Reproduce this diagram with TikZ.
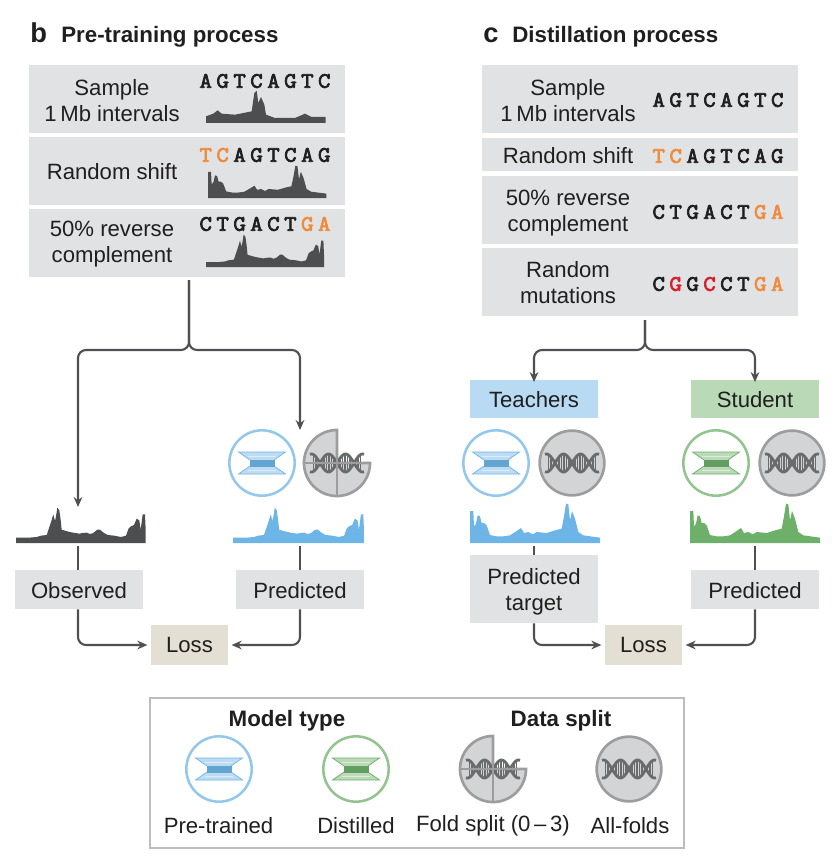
\documentclass[tikz,border=0pt]{standalone}
\usepackage{fontspec}
\setmainfont{Liberation Sans}
\newfontfamily\seqfont{Latin Modern Mono}[FakeBold=3.2,FakeStretch=1.1]
\usetikzlibrary{arrows.meta}
\definecolor{panelgray}{HTML}{E1E2E4}
\definecolor{lossbg}{HTML}{E4DFD3}
\definecolor{linegray}{HTML}{505052}
\definecolor{sigdark}{HTML}{4D4E50}
\definecolor{sigblue}{HTML}{6DB5E6}
\definecolor{siggreen}{HTML}{6CB06A}
\definecolor{orangeb}{HTML}{EE8B3D}
\definecolor{redb}{HTML}{D7202B}
\definecolor{teachbg}{HTML}{B9DAF3}
\definecolor{studbg}{HTML}{BAD9B6}
\definecolor{bluering}{HTML}{93C8EC}
\definecolor{bluelight}{HTML}{BDDBF2}
\definecolor{blueedge}{HTML}{6DB8E8}
\definecolor{greenring}{HTML}{93C48F}
\definecolor{greenlight}{HTML}{BCD9B8}
\definecolor{greenedge}{HTML}{6CB06A}
\definecolor{dnafill}{HTML}{D3D4D6}
\definecolor{dnaring}{HTML}{9D9D9F}
\definecolor{dnaline}{HTML}{6A6B6D}
\definecolor{legendedge}{HTML}{BDBDBD}
\definecolor{textk}{HTML}{1F1F1F}
\newcommand{\txtfont}{\fontsize{16.6pt}{19.6pt}\selectfont}
\newcommand{\hdfont}{\fontsize{16.75pt}{19.6pt}\selectfont\bfseries}
\newcommand{\sq}[2][black!88]{\makebox[12.7pt][c]{\textcolor{#1}{#2}}}
\newcommand{\og}[1]{\sq[orangeb]{#1}}
\newcommand{\rd}[1]{\sq[redb]{#1}}
\tikzset{
  greybox/.style={fill=panelgray,inner sep=0pt},
  lossbox/.style={fill=lossbg,inner sep=0pt,align=center,text=textk,font=\txtfont,minimum width=57.75pt,minimum height=30pt},
  labelbox/.style={greybox,minimum width=96pt,minimum height=29.25pt},
  txtlabel/.style={inner sep=0pt,align=center,text=textk,font=\txtfont},
  headlabel/.style={inner sep=0pt,text=textk,font=\hdfont},
  letterlabel/.style={inner sep=0pt,text=textk,font=\fontsize{20.5pt}{22pt}\selectfont\bfseries},
  seqnode/.style={inner sep=0pt,font=\fontsize{16.5pt}{18pt}\selectfont\seqfont},
  conn/.style={draw=linegray,line width=1.6pt,rounded corners=6pt},
  connarrow/.style={conn,-{Stealth[length=7.5pt,width=6.5pt]}},
}
% signal profiles (baseline at 0, units of 1/3 px)
\def\profA{(0,0)--(0,-16)--(40,-16)--(62,-18)--(75,-22)--(92,-24)--(100,-48)--(106,-66)--(112,-86)--(117,-66)--(120,-80)--(124,-106)--(130,-98)--(134,-70)--(137,-40)--(150,-36)--(158,-34)--(166,-32)--(178,-30)--(190,-28)--(200,-30)--(212,-31)--(222,-27)--(232,-30)--(244,-40)--(252,-40)--(264,-30)--(275,-24)--(295,-22)--(315,-18)--(330,-22)--(338,-44)--(345,-50)--(354,-54)--(362,-73)--(370,-68)--(374,-40)--(380,-86)--(387,-86)--(389,-40)--(389,0)--cycle}
\def\profB{(0,0)--(0,-96)--(10,-96)--(12,-50)--(18,-58)--(23,-83)--(30,-80)--(35,-60)--(42,-60)--(50,-53)--(60,-24)--(80,-20)--(100,-20)--(120,-23)--(140,-36)--(153,-45)--(162,-30)--(175,-33)--(188,-26)--(200,-33)--(230,-30)--(255,-38)--(275,-43)--(282,-80)--(288,-118)--(295,-116)--(300,-68)--(306,-96)--(315,-73)--(325,-33)--(340,-23)--(390,-16)--(390,0)--cycle}
\def\profC{(0,0)--(0,-20)--(22,-28)--(35,-38)--(47,-28)--(87,-25)--(137,-35)--(145,-90)--(152,-97)--(157,-60)--(165,-78)--(175,-55)--(180,-25)--(207,-15)--(267,-15)--(297,-28)--(317,-18)--(359,-18)--(359,0)--cycle}
\newcommand{\sig}[6]{\begin{scope}[shift={(#2,#3)},xscale=#4/3,yscale=#5/3]\fill[#1] #6;\end{scope}}
% icons
\newcommand{\modelicon}[6]{%
  \begin{scope}[shift={(#2,#3)}]
    \node[circle,draw=#4,line width=1.9pt,minimum size=49pt,inner sep=0pt,fill=white] (#1) at (0,0) {};
    \fill[#5] (-23.5,-11)--(23.5,-11)--(12,-3)--(-12,-3)--cycle;
    \fill[#5] (-23.5,11)--(23.5,11)--(12,3)--(-12,3)--cycle;
    \draw[#5!50!white,line width=.5pt] (-14,-7)--(14,-7) (-14,7)--(14,7);
    \draw[#6,line width=.55pt] (-12,-3)--(-23.5,-11)--(23.5,-11)--(12,-3) (-12,3)--(-23.5,11)--(23.5,11)--(12,3);
    \fill[#6!90!black,draw=#6!90!black,line width=.55pt] (-12,-3) rectangle (12,3);
  \end{scope}}
\newcommand{\helix}{%
  \foreach \k in {-23.5,-21,-13,-10.5,-8,-5.5,-3,3,5.5,8,10.5,13,21,23.5}{\draw[dnaline,line width=1pt] ({\k},{-9*sin(\k*360/34)})--({\k},{9*sin(\k*360/34)});}
  \draw[dnaline,line width=2.1pt,domain=-27:27,samples=60,smooth] plot (\x,{9*sin(\x*360/34)});
  \draw[dnaline,line width=2.1pt,domain=-27:27,samples=60,smooth] plot (\x,{-9*sin(\x*360/34)});}
\newcommand{\allfolds}[3]{%
  \begin{scope}[shift={(#2,#3)}]
    \node[circle,draw=dnaring,fill=dnafill,line width=2pt,minimum size=48.5pt,inner sep=0pt] (#1) at (0,0) {};
    \helix
  \end{scope}}
\newcommand{\foldsplit}[2]{%
  \begin{scope}[shift={(#1,#2)}]
    \draw[dnaring,fill=dnafill,line width=2pt,line join=miter,domain=0:270,samples=70] plot ({33*cos(\x)},{33*sin(\x)})--(0,0)--cycle;
    \helix
    \draw[dnaring,line width=1.4pt] (0,-33)--(0,33) (-33,0)--(33,0);
  \end{scope}}
\begin{document}
\begin{tikzpicture}[x=0.75pt,y=-0.75pt]
\useasboundingbox (0,0) rectangle (836,863);
% headers
\node[letterlabel,anchor=base west] (lb) at (30,43) {b};
\node[headlabel,anchor=base west] (hb) at (61,42.5) {Pre-training process};
\node[letterlabel,anchor=base west] (lc) at (483,43) {c};
\node[headlabel,anchor=base west] (hc) at (512,42.5) {Distillation process};
% panel b
\node[greybox,minimum width=237pt,minimum height=51pt] (b1) at (187,99) {};
\node[greybox,minimum width=237pt,minimum height=51pt] (b2) at (187,171) {};
\node[greybox,minimum width=237pt,minimum height=51pt] (b3) at (187,243) {};
\node[txtlabel] (tb1) at (112,101) {Sample\\1\,Mb intervals};
\node[txtlabel] (tb2) at (112,172) {Random shift};
\node[txtlabel] (tb3) at (112,244.5) {50\% reverse\\complement};
\node[seqnode] (sb1) at (265,81) {\sq A\sq G\sq T\sq C\sq A\sq G\sq T\sq C};
\node[seqnode] (sb2) at (265,155) {\og T\og C\sq A\sq G\sq T\sq C\sq A\sq G};
\node[seqnode] (sb3) at (265,224) {\sq C\sq T\sq G\sq A\sq C\sq T\og G\og A};
\sig{sigdark}{206}{123}{1}{1}{\profC}
\sig{sigdark}{208}{198}{.91}{.82}{\profB}
\sig{sigdark}{206}{267}{.91}{.92}{\profA}
% panel c
\node[greybox,minimum width=237pt,minimum height=51pt] (c1) at (640,99) {};
\node[greybox,minimum width=237pt,minimum height=25pt] (c2) at (640,154.5) {};
\node[greybox,minimum width=237pt,minimum height=51pt] (c3) at (640,210) {};
\node[greybox,minimum width=237pt,minimum height=51pt] (c4) at (640,282) {};
\node[txtlabel] (tc1) at (568,101) {Sample\\1\,Mb intervals};
\node[txtlabel] (tc2) at (568,156) {Random shift};
\node[txtlabel] (tc3) at (568,213.5) {50\% reverse\\complement};
\node[txtlabel] (tc4) at (568,283) {Random\\mutations};
\node[seqnode] (sc1) at (718,100) {\sq A\sq G\sq T\sq C\sq A\sq G\sq T\sq C};
\node[seqnode] (sc2) at (718,156) {\og T\og C\sq A\sq G\sq T\sq C\sq A\sq G};
\node[seqnode] (sc3) at (718,212) {\sq C\sq T\sq G\sq A\sq C\sq T\og G\og A};
\node[seqnode] (sc4) at (718,284) {\sq C\rd G\sq G\rd C\sq C\sq T\og G\og A};
% model boxes
\node[greybox,fill=teachbg,minimum width=96pt,minimum height=29pt] (teach) at (534,399) {};
\node[txtlabel] (tteach) at (534,400) {Teachers};
\node[greybox,fill=studbg,minimum width=96pt,minimum height=29pt] (stud) at (755,399) {};
\node[txtlabel] (tstud) at (755,400) {Student};
% icons
\modelicon{ib1}{262}{463}{bluering}{bluelight}{blueedge}
\foldsplit{337}{463}
\modelicon{ic1}{496}{463}{bluering}{bluelight}{blueedge}
\allfolds{ic2}{572}{463}
\modelicon{ic3}{716}{463}{greenring}{greenlight}{greenedge}
\allfolds{ic4}{792}{463}
% signals
\sig{sigdark}{16}{543}{1}{1}{\profA}
\sig{sigblue}{233}{543}{1.01}{1}{\profA}
\sig{sigblue}{470}{543}{1}{1}{\profB}
\sig{siggreen}{690}{543}{1}{1}{\profB}
% signal anchor points
\coordinate (obs) at (78,546);
\coordinate (obsin) at (78,507);
\coordinate (pre) at (300,546);
\coordinate (prein) at (300,430);
\coordinate (tsig) at (534,546);
\coordinate (ssig) at (755,546);
\coordinate (bstart) at (189,280);
\coordinate (bfork) at (189,350);
\coordinate (cstart) at (645,320);
\coordinate (cfork) at (645,350);
% label boxes
\node[labelbox] (bobs) at (79,589.5) {};
\node[txtlabel] (tobs) at (79,590.5) {Observed};
\node[labelbox] (bpre) at (300,589.5) {};
\node[txtlabel] (tpre) at (300,590.5) {Predicted};
\node[lossbox] (bloss) at (189.5,645) {Loss};
\node[greybox,minimum width=96pt,minimum height=51pt] (ctar) at (534,589) {};
\node[txtlabel] (ttar) at (534,592) {Predicted\\target};
\node[labelbox] (cpre) at (755,589.5) {};
\node[txtlabel] (tcpre) at (755,590.5) {Predicted};
\node[lossbox] (closs) at (643.5,645) {Loss};
% connectors b
\draw[connarrow] (bstart)--(bfork)--(obsin |- bfork)--(obsin);
\draw[connarrow] (bstart)--(bfork)--(prein |- bfork)--(prein);
\draw[conn] (obs)--(obs |- bobs.north);
\draw[conn] (pre)--(pre |- bpre.north);
\draw[connarrow] (obs |- bobs.south)--(obs |- bloss.west)--([xshift=-2.5pt]bloss.west);
\draw[connarrow] (pre |- bpre.south)--(pre |- bloss.east)--([xshift=2.5pt]bloss.east);
% connectors c
\draw[connarrow] (cstart)--(cfork)--(teach.north |- cfork)--([yshift=-2pt]teach.north);
\draw[connarrow] (cstart)--(cfork)--(stud.north |- cfork)--([yshift=-2pt]stud.north);
\draw[conn] (tsig)--(ctar.north);
\draw[conn] (ssig)--(cpre.north);
\draw[connarrow] (ctar.south)--(ctar.south |- closs.west)--([xshift=-2.5pt]closs.west);
\draw[connarrow] (cpre.south)--(cpre.south |- closs.east)--([xshift=2.5pt]closs.east);
% legend
\node[draw=legendedge,line width=1pt,fill=white,inner sep=0pt,minimum width=400.5pt,minimum height=112.5pt] (legend) at (417,773) {};
\node[headlabel] (lgm) at (287,720.5) {Model type};
\node[headlabel] (lgd) at (561,720.5) {Data split};
\modelicon{lg1}{219}{769}{bluering}{bluelight}{blueedge}
\modelicon{lg2}{356}{769}{greenring}{greenlight}{greenedge}
\foldsplit{493}{769}
\allfolds{lg4}{629}{769}
\node[txtlabel] (tl1) at (218.5,826) {Pre-trained};
\node[txtlabel] (tl2) at (356,826) {Distilled};
\node[txtlabel] (tl3) at (493,826) {Fold split (0\,–\,3)};
\node[txtlabel] (tl4) at (630,826) {All-folds};
\end{tikzpicture}
\end{document}
